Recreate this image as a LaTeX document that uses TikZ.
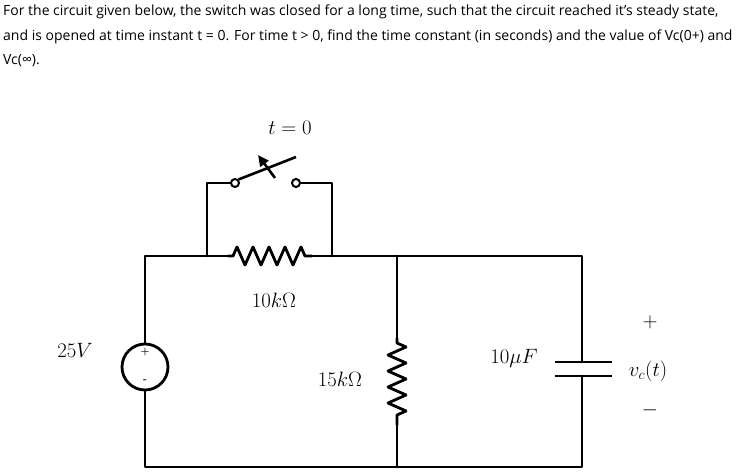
\documentclass[tikz,border=0pt]{standalone}
\usepackage{fontspec}
\newfontfamily\sans{Open Sans}
\usetikzlibrary{decorations.pathmorphing,arrows.meta}
\begin{document}
\begin{tikzpicture}[x=1pt,y=-1pt,
 wire/.style={line width=2.8pt,line cap=round,line join=round},
 zig/.style={wire,decorate,decoration={zigzag,segment length=16pt,amplitude=9pt,pre length=5pt,post length=5pt}},
 lbl/.style={font=\huge},
 txt/.style={font=\sans\fontsize{14}{16}\selectfont,anchor=west,inner sep=0}]
\useasboundingbox (0,0) rectangle (756,474);
\node[txt] (l1) at (3,12) {For the circuit given below, the switch was closed for a long time, such that the circuit reached it’s steady state,};
\node[txt] (l2) at (3,37) {and is opened at time instant t = 0. For time t > 0, find the time constant (in seconds) and the value of Vc(0+) and};
\node[txt] (l3) at (3,61) {Vc(∞).};
\coordinate (tl) at (145,256); \coordinate (bl) at (145,467);
\coordinate (tm) at (397,256); \coordinate (bm) at (397,467);
\coordinate (tr) at (582,256); \coordinate (br) at (582,467);
\coordinate (r1a) at (228,256); \coordinate (r1b) at (312,256);
\coordinate (sa) at (207,256); \coordinate (sb) at (332,256);
\coordinate (sat) at (207,183); \coordinate (sbt) at (332,183);
\node[circle,draw,line width=2.8pt,minimum size=46pt,inner sep=0] (src) at (145,367) {};
\node[font=\bfseries] at (145,352) {+};
\node[font=\bfseries] at (145,381) {-};
\node[circle,draw,line width=2pt,minimum size=8pt,inner sep=0] (c1) at (235,183) {};
\node[circle,draw,line width=2pt,minimum size=8pt,inner sep=0] (c2) at (296,183) {};
\draw[wire] (src.north) -- (tl) -- (r1a);
\draw[zig] (r1a) -- (r1b);
\draw[wire] (r1b) -- (tr) -- (582,362);
\draw[wire] (582,376) -- (br) -- (bl) -- (src.south);
\draw[wire] (sa) -- (sat) -- (c1.west);
\draw[wire] (c2.east) -- (sbt) -- (sb);
\draw[line width=2.6pt] (c1.north east) -- (296,157);
\draw[line width=2.6pt,-{Triangle[length=11pt,width=10pt]}] (275,178) -- (258,155);
\draw[wire] (tm) -- (397,338);
\draw[zig] (397,338) -- (397,425);
\draw[wire] (397,425) -- (bm);
\draw[line width=2.8pt] (555,362) -- (612,362) (555,376) -- (612,376);
\node[lbl] at (290,128) {$t=0$};
\node[lbl] at (274,300) {$10k\Omega$};
\node[lbl] at (75,350) {$25V$};
\node[lbl] at (340,379) {$15k\Omega$};
\node[lbl] at (514,358) {$10\mu F$};
\node[lbl] at (650,322) {$+$};
\node[lbl] at (648,371) {$v_c(t)$};
\node[lbl] at (650,410) {$-$};
\end{tikzpicture}
\end{document}
